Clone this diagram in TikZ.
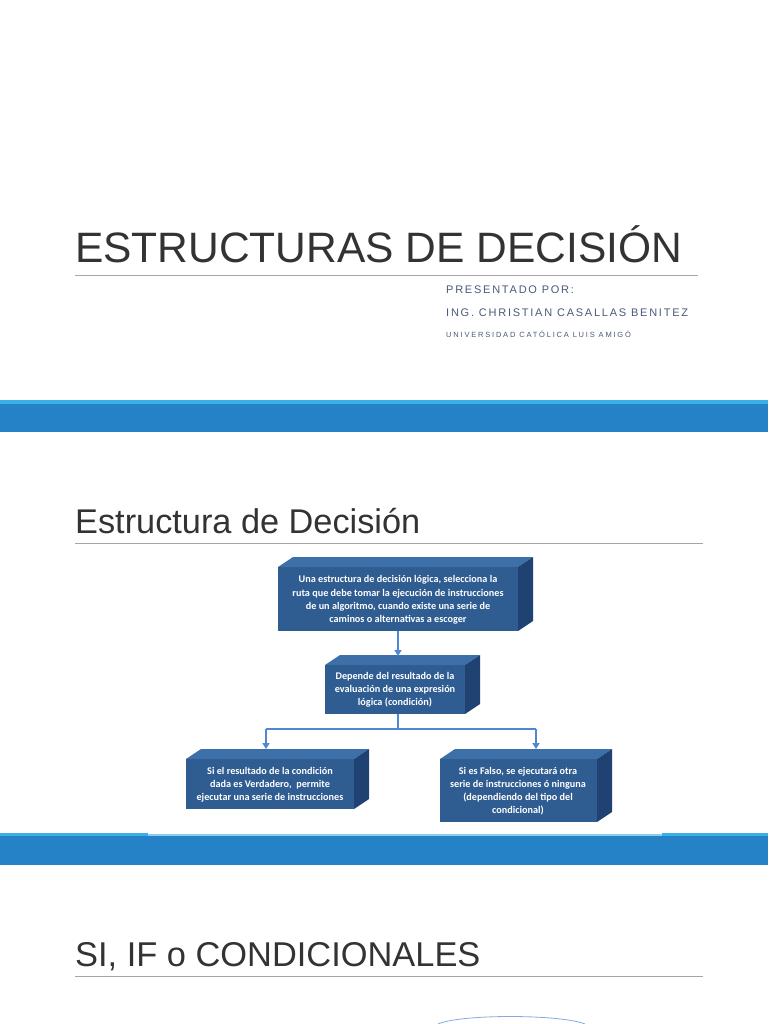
\documentclass[tikz,border=0pt]{standalone}
\usepackage{fontspec}
\setmainfont{Liberation Sans}
\newfontfamily\boxfont{Carlito}[BoldFont={Carlito Bold}]
\usetikzlibrary{arrows.meta}
\definecolor{bandblue}{HTML}{2682C6}
\definecolor{bandlight}{HTML}{3BB0E6}
\definecolor{titlegray}{HTML}{333333}
\definecolor{subblue}{HTML}{4A5A7A}
\definecolor{frontc}{HTML}{2F5C91}
\definecolor{topc}{HTML}{3D6FA8}
\definecolor{sidec}{HTML}{1F4272}
\definecolor{arrc}{HTML}{4F87D2}
\tikzset{
  x=1pt,y=-1pt,
  title/.style={anchor=base west,text=titlegray,font=\fontsize{42.5}{42}\selectfont,inner sep=0},
  sub/.style={anchor=base west,text=subblue,inner sep=0},
  boxtext/.style={text=white,font=\boxfont\bfseries\fontsize{10.2}{13.2}\selectfont,align=center},
  conn/.style={draw=arrc,line width=2pt,-{Triangle[length=6pt,width=7pt]}},
}
\newcommand{\cube}[5]{% x1 y1 x2 y2 depth
  \fill[topc] (#1,#2) -- (#1+#5,#2-10) -- (#3+#5,#2-10) -- (#3,#2) -- cycle;
  \fill[sidec] (#3,#2) -- (#3+#5,#2-10) -- (#3+#5,#4-10) -- (#3,#4) -- cycle;
  \fill[frontc] (#1,#2) rectangle (#3,#4);
}
\begin{document}
\begin{tikzpicture}
\useasboundingbox (0,0) rectangle (768,1024);
\fill[white] (0,0) rectangle (768,1024);
% slide 1
\node[title] (t1) at (75,262) {ESTRUCTURAS DE DECISIÓN};
\draw[gray!70,line width=0.8pt] (75,275) -- (698,275);
\node[sub,font=\fontsize{11}{11}\selectfont\addfontfeature{LetterSpace=16}] (s1) at (446,293) {PRESENTADO POR:};
\node[sub,font=\fontsize{11}{11}\selectfont\addfontfeature{LetterSpace=16}] (s2) at (446,316) {ING. CHRISTIAN CASALLAS BENITEZ};
\node[sub,font=\fontsize{7.5}{8}\selectfont\addfontfeature{LetterSpace=24}] (s3) at (446,337) {UNIVERSIDAD CATÓLICA LUIS AMIGÓ};
% band 1
\fill[bandlight] (0,400) rectangle (768,404);
\fill[bandblue] (0,404) rectangle (768,432);
% slide 2
\node[title,font=\fontsize{34.3}{34}\selectfont] (t2) at (75,533) {Estructura de Decisión};
\draw[gray!70,line width=0.8pt] (75,543) -- (703,543);
\cube{278}{567}{518}{631}{15}
\node[boxtext] (b1) at (398,600) {Una estructura de decisión lógica, selecciona la\\ruta que debe tomar la ejecución de instrucciones\\de un algoritmo, cuando existe una serie de\\caminos o alternativas a escoger};
\cube{325}{665}{465}{714}{15}
\node[boxtext] (b2) at (395,690) {Depende del resultado de la\\evaluación de una expresión\\lógica (condición)};
\cube{186}{759}{354}{809}{15}
\node[boxtext] (b3) at (270,785) {Si el resultado de la condición\\dada es Verdadero,\ \ permite\\ejecutar una serie de instrucciones};
\cube{440}{759}{597}{822}{15}
\node[boxtext] (b4) at (518,791) {Si es Falso, se ejecutará otra\\serie de instrucciones ó ninguna\\(dependiendo del tipo del\\condicional)};
\coordinate (a1) at (398,631);
\coordinate (a2) at (398,656);
\coordinate (m) at (398,714);
\coordinate (l) at (266,729);
\coordinate (r) at (536,729);
\coordinate (l2) at (266,749);
\coordinate (r2) at (536,749);
\draw[conn] (a1) -- (a2);
\draw[draw=arrc,line width=2pt] (m) -- (398,729) (l) -- (r);
\draw[conn] (l) -- (l2);
\draw[conn] (r) -- (r2);
% band 2
\fill[bandlight] (0,833) rectangle (148,836);
\fill[bandlight] (662,833) rectangle (768,836);
\fill[bandlight!60] (148,834) rectangle (662,836);
\fill[bandblue] (0,836) rectangle (768,865);
% slide 3
\node[title,font=\fontsize{34.4}{34}\selectfont] (t3) at (75,966) {SI, IF o CONDICIONALES};
\draw[gray!70,line width=0.8pt] (75,976) -- (703,976);
\draw[arrc!70,line width=0.8pt] (438,1024) .. controls (460,1014) and (560,1014) .. (585,1024);
\end{tikzpicture}
\end{document}
